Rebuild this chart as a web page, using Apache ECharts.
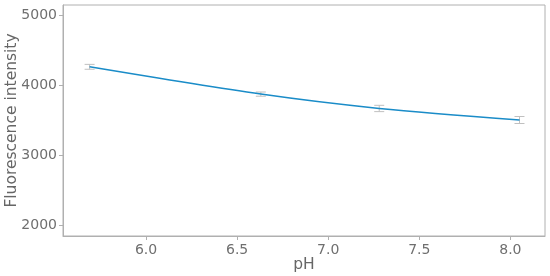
<!DOCTYPE html>
<html><head><meta charset="utf-8">
<script src="https://cdn.jsdelivr.net/npm/echarts@6/dist/echarts.min.js"></script>
<style>html,body{margin:0;padding:0;background:#fff}#c{width:550px;height:276px}</style>
</head><body><div id="c"></div>
<script>
const phValues = [5.69, 6.63, 7.28, 8.05];
const intensity = [4260, 3870, 3665, 3500];
const errors = [35, 30, 45, 50];
const xTicks = [6.0, 6.5, 7.0, 7.5, 8.0];
const yTicks = [2000, 3000, 4000, 5000];

const chart = echarts.init(document.getElementById('c'));
const lineData = phValues.map((x, i) => [x, intensity[i]]);
const errData = phValues.map((x, i) => [x, intensity[i] - errors[i], intensity[i] + errors[i]]);
const font = 'DejaVu Sans';
chart.setOption({
  animation: false,
  grid: {left: 63, right: 5, top: 5, bottom: 40, containLabel: false, outerBoundsMode: 'none',
         show: true, borderColor: '#b0b0b0', borderWidth: 1},
  xAxis: {
    type: 'value', min: 5.544, max: 8.19,
    name: 'pH', nameLocation: 'middle', nameGap: 21, nameMoveOverlap: false,
    nameTextStyle: {fontFamily: font, fontSize: 15.5, color: '#666'},
    axisLine: {show: true, lineStyle: {color: '#b0b0b0'}},
    axisTick: {show: true, customValues: xTicks, length: 4, lineStyle: {color: '#b0b0b0'}},
    axisLabel: {customValues: xTicks, formatter: v => Number(v).toFixed(1), fontFamily: font, fontSize: 14, color: '#6f6f6f', margin: 7},
    splitLine: {show: false}
  },
  yAxis: {
    type: 'value', min: 1843, max: 5143,
    name: 'Fluorescence intensity', nameLocation: 'middle', nameGap: 43, nameMoveOverlap: false,
    nameTextStyle: {fontFamily: font, fontSize: 15.5, color: '#666'},
    axisLine: {show: true, lineStyle: {color: '#b0b0b0'}},
    axisTick: {show: true, customValues: yTicks, length: 4, lineStyle: {color: '#b0b0b0'}},
    axisLabel: {customValues: yTicks, formatter: v => String(Math.round(v)), fontFamily: font, fontSize: 14, color: '#6f6f6f', margin: 6},
    splitLine: {show: false}
  },
  series: [
    {
      type: 'line', data: lineData, smooth: 0.3, showSymbol: false,
      lineStyle: {color: '#1a8cc8', width: 1.5}, z: 3
    },
    {
      type: 'custom', data: errData, z: 2,
      renderItem: function (params, api) {
        const x = api.value(0);
        const lo = api.coord([x, api.value(1)]);
        const hi = api.coord([x, api.value(2)]);
        const w = 5;
        const style = {stroke: '#c0c0c0', lineWidth: 1};
        return {type: 'group', children: [
          {type: 'line', shape: {x1: lo[0], y1: lo[1], x2: hi[0], y2: hi[1]}, style},
          {type: 'line', shape: {x1: lo[0] - w, y1: lo[1], x2: lo[0] + w, y2: lo[1]}, style},
          {type: 'line', shape: {x1: hi[0] - w, y1: hi[1], x2: hi[0] + w, y2: hi[1]}, style}
        ]};
      }
    }
  ]
});
</script></body></html>
